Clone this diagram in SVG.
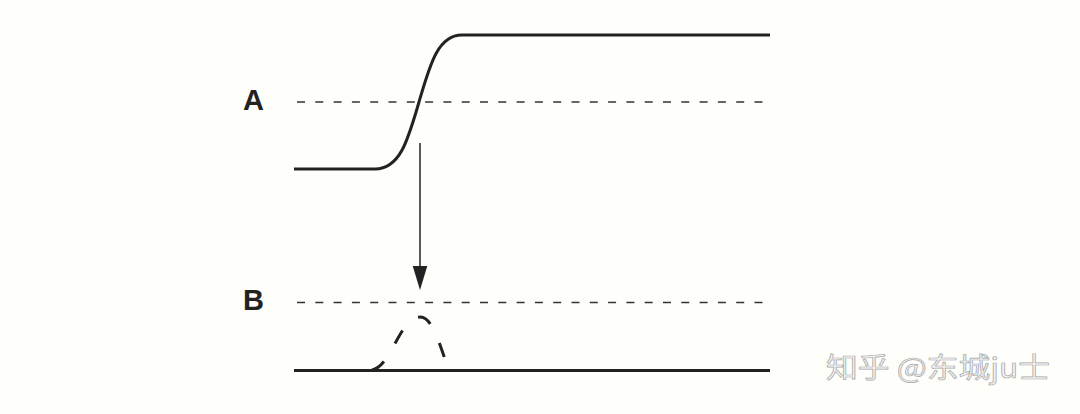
<svg xmlns="http://www.w3.org/2000/svg" width="1080" height="414" viewBox="0 0 1080 414">
  <style>
    .sig { fill: none; stroke: #222; stroke-width: 3; stroke-linecap: butt; }
    .thr { fill: none; stroke: #333; stroke-width: 1.5; stroke-dasharray: 8 10.3; }
    .lbl { font-family: "Liberation Sans", Arial, sans-serif; font-weight: bold; font-size: 29px; fill: #222; }
    .wm { font-family: "Noto Sans CJK SC", "Noto Sans", sans-serif; font-size: 28px; fill: #f2f2f2; stroke: #a8a8a8; stroke-width: 0.7; }
  </style>
  <rect width="1080" height="414" fill="#fefefb"/>
  <g id="labels">
    <text class="lbl" x="243" y="110">A</text>
    <text class="lbl" x="243" y="310">B</text>
  </g>
  <g id="thresholds">
    <line class="thr" x1="297" y1="102" x2="770" y2="102"/>
    <line class="thr" x1="297" y1="302.5" x2="770" y2="302.5"/>
  </g>
  <g id="signal-A">
    <path class="sig" d="M294,169 L375,169 C400,169 408,140 419,102 C430,64 438,35 462,35 L770,35"/>
  </g>
  <g id="signal-B">
    <line class="sig" x1="294" y1="370.5" x2="770" y2="370.5"/>
    <path fill="none" stroke="#222" stroke-width="3" stroke-dasharray="15 21" d="M372,370 C392,366 399,318 420,317 C432,316 440,345 449,371"/>
  </g>
  <g id="connectors">
    <line x1="420" y1="143" x2="420" y2="268" stroke="#222" stroke-width="1.5"/>
    <path d="M412.7,266 L427.3,266 L420,290 Z" fill="#222"/>
  </g>
  <g id="watermark">
    <text class="wm" x="826" y="378" textLength="224" lengthAdjust="spacingAndGlyphs">知乎 @东城ju士</text>
  </g>
</svg>
